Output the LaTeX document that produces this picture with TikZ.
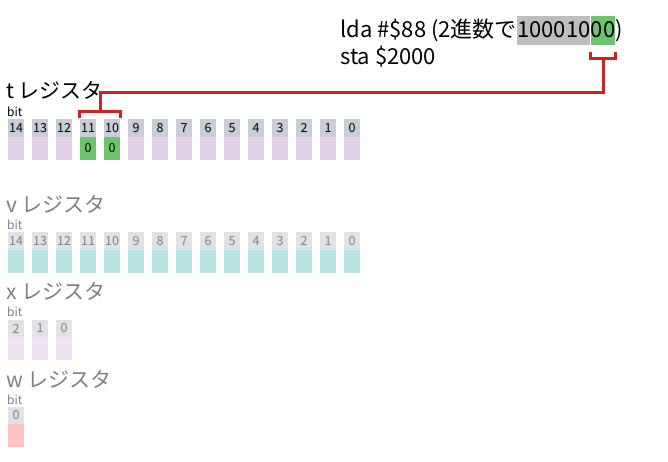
\documentclass[tikz,border=0pt]{standalone}
\usepackage{fontspec}
\usetikzlibrary{calc}
\setmainfont{Noto Sans CJK JP}
\begin{document}
\begin{tikzpicture}[x=1pt,y=-1pt,
  hdr/.style={fill=#1,draw=none,minimum width=16pt,minimum height=18pt,inner sep=0pt,font=\fontsize{12.5}{12.5}\selectfont},
  bodyc/.style={fill=#1,draw=none,minimum width=16pt,minimum height=23pt,inner sep=0pt,font=\fontsize{12.5}{12.5}\selectfont},
  ttl/.style={anchor=base west,inner sep=0pt,font=\fontsize{21}{21}\selectfont},
  code/.style={anchor=base west,inner xsep=0pt,inner ysep=0pt,font=\fontsize{22}{22}\selectfont},
  hl/.style={code,fill=#1,text depth=7pt,text height=22pt},
  bitl/.style={anchor=base west,inner sep=0pt,font=\fontsize{12}{12}\selectfont},
  redl/.style={draw={rgb,255:red,204;green,34;blue,34},line width=3pt}]
\useasboundingbox (0,0) rectangle (668,462);
\definecolor{hdrg}{RGB}{200,205,215}
\definecolor{hdrl}{RGB}{224,226,232}
\definecolor{purp}{RGB}{228,210,234}
\definecolor{purl}{RGB}{240,228,244}
\definecolor{teal}{RGB}{184,228,228}
\definecolor{pinkc}{RGB}{255,196,196}
\definecolor{grn}{RGB}{110,196,110}
\definecolor{hlg}{RGB}{190,190,190}
% top code
\node[code] (code1) at (340,38) {lda \#\$88 (2進数で};
\node[hl=hlg] (codeg) at (code1.base east) {100010};
\node[hl=grn] (codegr) at (codeg.base east) {00};
\node[code] (code3) at (codegr.base east) {)};
\node[code] (code2) at (340,65) {sta \$2000};
% t register
\node[ttl] (tt) at (6,99) {t レジスタ};
\node[bitl] (tb) at (7,117) {bit};
\foreach \i in {0,...,14}{
  \pgfmathtruncatemacro{\n}{14-\i}
  \node[hdr=hdrg] (th\n) at (16+24*\i,128) {\n};
  \node[bodyc=purp] (tc\n) at (16+24*\i,148.5) {};
}
\node[bodyc=grn] (tg11) at (88,148.5) {0};
\node[bodyc=grn] (tg10) at (112,148.5) {0};
% red bracket
\coordinate (g1) at ([yshift=-13]codegr.south west);
\coordinate (g2) at ([yshift=-13]codegr.south east);
\coordinate (gm) at ([yshift=-13]codegr.south);
\draw[redl] ([yshift=6]g1) -- (g1) -- (g2) -- ([yshift=6]g2);
\coordinate (tm) at ($(th11.north)!0.5!(th10.north)+(0,-7)$);
\draw[redl] (gm) |- (100,93) -- (tm);
\draw[redl] ([yshift=-6]th11.north west |- tm) -- (th11.north west |- tm) -- (th10.north east |- tm) -- ([yshift=-6]th10.north east |- tm);
% v register
\node[ttl,text=gray] (vt) at (6,212) {v レジスタ};
\node[bitl,text=gray] (vb) at (7,229) {bit};
\foreach \i in {0,...,14}{
  \pgfmathtruncatemacro{\n}{14-\i}
  \node[hdr=hdrl,text=gray] (vh\n) at (16+24*\i,241) {\n};
  \node[bodyc=teal] (vc\n) at (16+24*\i,261.5) {};
}
% x register
\node[ttl,text=gray] (xt) at (6,299) {x レジスタ};
\node[bitl,text=gray] (xb) at (7,316) {bit};
\foreach \i in {0,...,2}{
  \pgfmathtruncatemacro{\n}{2-\i}
  \node[hdr=hdrl,text=gray] (xh\n) at (16+24*\i,328.5) {\n};
  \node[bodyc=purl] (xc\n) at (16+24*\i,348.5) {};
}
% w register
\node[ttl,text=gray] (wt) at (6,387) {w レジスタ};
\node[bitl,text=gray] (wb) at (7,404) {bit};
\node[hdr=hdrl,text=gray] (wh0) at (16,415.5) {0};
\node[bodyc=pinkc] (wc0) at (16,435.5) {};
\end{tikzpicture}
\end{document}
